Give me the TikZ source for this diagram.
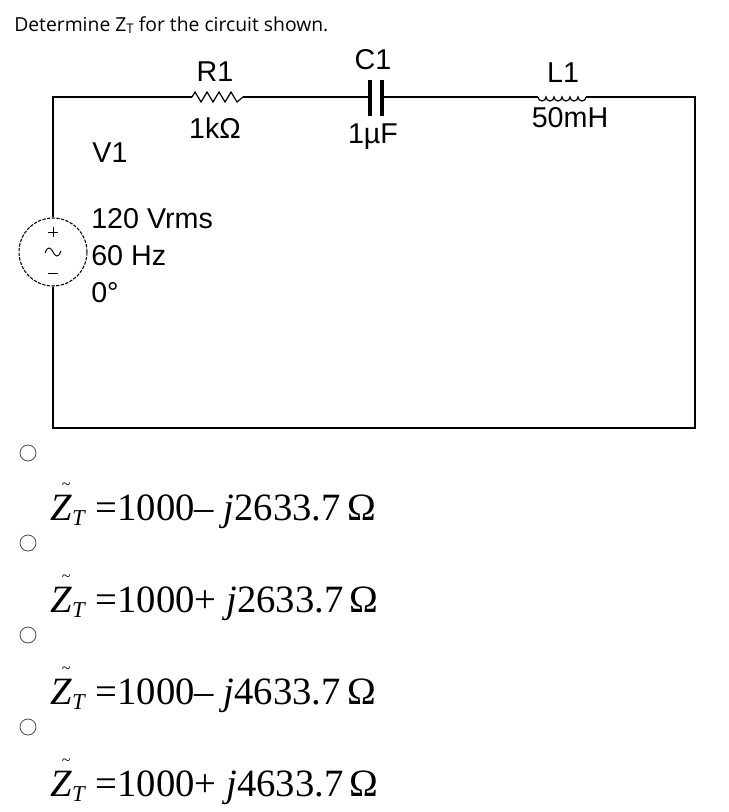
\documentclass[tikz,border=0pt]{standalone}
\usepackage{fontspec}
\setmainfont{Liberation Sans}
\newfontfamily\osans{Open Sans}
\newfontfamily\tms{Liberation Serif}
\newcommand{\zt}{\makebox[0pt][l]{\hspace{0.3em}\raisebox{0.8em}{\fontsize{12}{12}\selectfont\char`~}}\textit{Z}\raisebox{-0.25ex}{\fontsize{17}{17}\selectfont\textit{T}}}
\begin{document}
\begin{tikzpicture}[x=0.75pt,y=-0.75pt,
  wire/.style={line width=0.9pt},
  lbl/.style={font=\fontsize{21.5}{23}\selectfont, inner sep=0pt},
  opt/.style={circle, draw=black!70, line width=0.6pt, minimum size=12pt, inner sep=0pt},
  ans/.style={anchor=west, inner sep=0pt, font=\fontsize{29}{32}\selectfont\tms}]
\useasboundingbox (0,0) rectangle (728,812);
\node[anchor=west, inner sep=0pt, font=\fontsize{14.5}{16}\selectfont\osans] (title) at (14,25) {Determine Z\raisebox{-0.25ex}{\fontsize{10}{10}\selectfont T} for the circuit shown.};
\coordinate (tl) at (53,97); \coordinate (tr) at (695,97);
\coordinate (bl) at (53,428); \coordinate (br) at (695,428);
\coordinate (r1a) at (192,97); \coordinate (r1b) at (243,97);
\coordinate (c1a) at (370,97); \coordinate (c1b) at (382,97);
\coordinate (l1a) at (538,97); \coordinate (l1b) at (586,97);
\node[circle, draw, line width=0.8pt, dash pattern=on 2.5pt off 1pt, minimum size=51pt, inner sep=0pt] (v1) at (53,252) {};
\draw[wire] (v1.north) -- (tl) -- (r1a);
\draw[wire] (r1a) -- ++(3,-5) -- ++(6,10) -- ++(6,-10) -- ++(6,10) -- ++(6,-10) -- ++(6,10) -- ++(6,-10) -- ++(6,10) -- (r1b);
\draw[wire] (r1b) -- (c1a);
\draw[line width=2.5pt] (370,80) -- (370,116) (382,80) -- (382,116);
\draw[wire] (c1b) -- (l1a);
\draw[wire] (l1a) \foreach \i in {0,...,5} { arc[start angle=180, end angle=0, radius=4] };
\draw[wire] (l1b) -- (tr) -- (br) -- (bl) -- (v1.south);
\draw[line width=0.7pt] (48,232) -- (58,232) (53,227) -- (53,237) (48,273) -- (58,273);
\draw[line width=0.7pt] (45,253) .. controls (48,245) and (51,248) .. (53,252) .. controls (55,256) and (58,259) .. (61,251);
\node[lbl] (r1) at (215,72) {R1};
\node[lbl] (r1v) at (215,128) {1kΩ};
\node[lbl] (c1) at (373,60) {C1};
\node[lbl] (c1v) at (373,137) {1µF};
\node[lbl] (l1) at (563,73) {L1};
\node[lbl] (l1v) at (570,118) {50mH};
\node[lbl] (v1n) at (110,153) {V1};
\node[lbl, anchor=west] (v1a) at (91,219) {120 Vrms};
\node[lbl, anchor=west] (v1b) at (91,256) {60 Hz};
\node[lbl, anchor=west] (v1c) at (91,293) {0°};
\node[opt] (o1) at (28,453) {};
\node[opt] (o2) at (28,543) {};
\node[opt] (o3) at (28,635) {};
\node[opt] (o4) at (28,727) {};
\node[ans] (a1) at (50,506) {\zt\ =1000– \textit{j}2633.7\,Ω};
\node[ans] (a2) at (50,598) {\zt\ =1000+ \textit{j}2633.7\,Ω};
\node[ans] (a3) at (50,690) {\zt\ =1000– \textit{j}4633.7\,Ω};
\node[ans] (a4) at (50,782) {\zt\ =1000+ \textit{j}4633.7\,Ω};
\end{tikzpicture}
\end{document}
